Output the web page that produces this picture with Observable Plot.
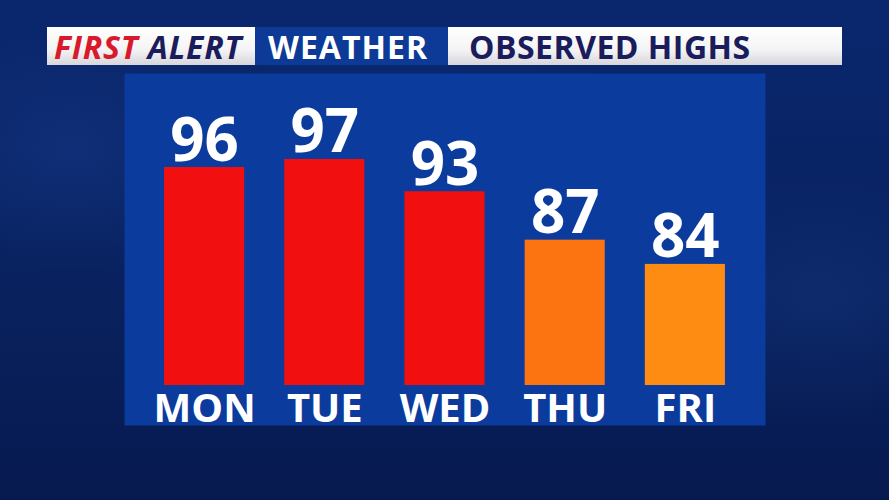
<!DOCTYPE html>
<html>
<head>
<meta charset="utf-8">
<script src="https://cdn.jsdelivr.net/npm/d3@7"></script>
<script src="https://cdn.jsdelivr.net/npm/@observablehq/plot@0.6"></script>
<style>
  html, body { margin: 0; padding: 0; background: #08205e; }
  #stage {
    position: relative; width: 889px; height: 500px; overflow: hidden;
    background:
      radial-gradient(ellipse 45% 40% at 45% 35%, rgba(20,60,150,0.35), rgba(20,60,150,0) 70%),
      radial-gradient(ellipse 30% 35% at 8% 30%, rgba(30,70,160,0.30), rgba(30,70,160,0) 70%),
      radial-gradient(ellipse 30% 35% at 92% 60%, rgba(30,70,150,0.25), rgba(30,70,150,0) 70%),
      linear-gradient(180deg, #0a276e 0%, #09225f 55%, #071a50 100%);
    font-family: "Open Sans", sans-serif;
  }
  #header { position: absolute; left: 47px; top: 27px; height: 38px; display: flex; }
  .seg { height: 38px; display: flex; align-items: center; box-sizing: border-box; font-weight: 700; font-size: 32px; white-space: nowrap; }
  .white { background: linear-gradient(180deg, #ffffff 0%, #f4f4f6 60%, #d6d6dc 100%); }
  #s1 { width: 208px; padding-left: 7px; font-style: italic; letter-spacing: 0.8px; }
  #s2 { width: 193px; background: #0d3a96; color: #ffffff; padding-left: 13px; letter-spacing: 1px; }
  #s3 { width: 394px; color: #1b1c5c; padding-left: 21px; letter-spacing: 0.5px; }
  .red { color: #d81a2a; }
  .navy { color: #1b1c5c; }
  #chart { position: absolute; left: 0; top: 0; }
</style>
</head>
<body>
<div id="stage">
  <div id="chart"></div>
  <div id="header">
    <div class="seg white" id="s1"><span class="red">FIRST</span>&nbsp;<span class="navy">ALERT</span></div>
    <div class="seg" id="s2">WEATHER</div>
    <div class="seg white" id="s3">OBSERVED HIGHS</div>
  </div>
</div>
<script>
const days = ["MON", "TUE", "WED", "THU", "FRI"];
const highs = [96, 97, 93, 87, 84];
const barColors = ["#f20f10", "#f20f10", "#f20f10", "#fc7311", "#fe8b12"];
const baseline = 69;

const data = days.map((d, i) => ({day: d, high: highs[i], color: barColors[i]}));

const chart = Plot.plot({
  width: 889,
  height: 500,
  marginLeft: 124,
  marginRight: 124,
  marginTop: 73,
  marginBottom: 75,
  style: {background: "transparent", fontFamily: "Open Sans, sans-serif", overflow: "visible"},
  x: {domain: days, range: [124, 765], paddingInner: 1 / 3, paddingOuter: 1 / 3, round: false, axis: null},
  y: {domain: [baseline, 96], range: [385, 167], axis: null},
  color: {type: "identity"},
  marks: [
    Plot.frame({fill: "#0b3b9c", stroke: null}),
    Plot.barY(data, {x: "day", y1: baseline, y2: "high", fill: "color"}),
    Plot.text(data, {x: "day", y: "high", text: d => String(d.high), lineAnchor: "bottom", dy: -7,
      fontSize: 60, fontWeight: "bold", fill: "white"}),
    Plot.text(data, {x: "day", y: baseline, text: "day", lineAnchor: "top", dy: 8,
      fontSize: 40, fontWeight: "bold", fill: "white"})
  ]
});
document.getElementById("chart").appendChild(chart);
</script>
</body>
</html>
